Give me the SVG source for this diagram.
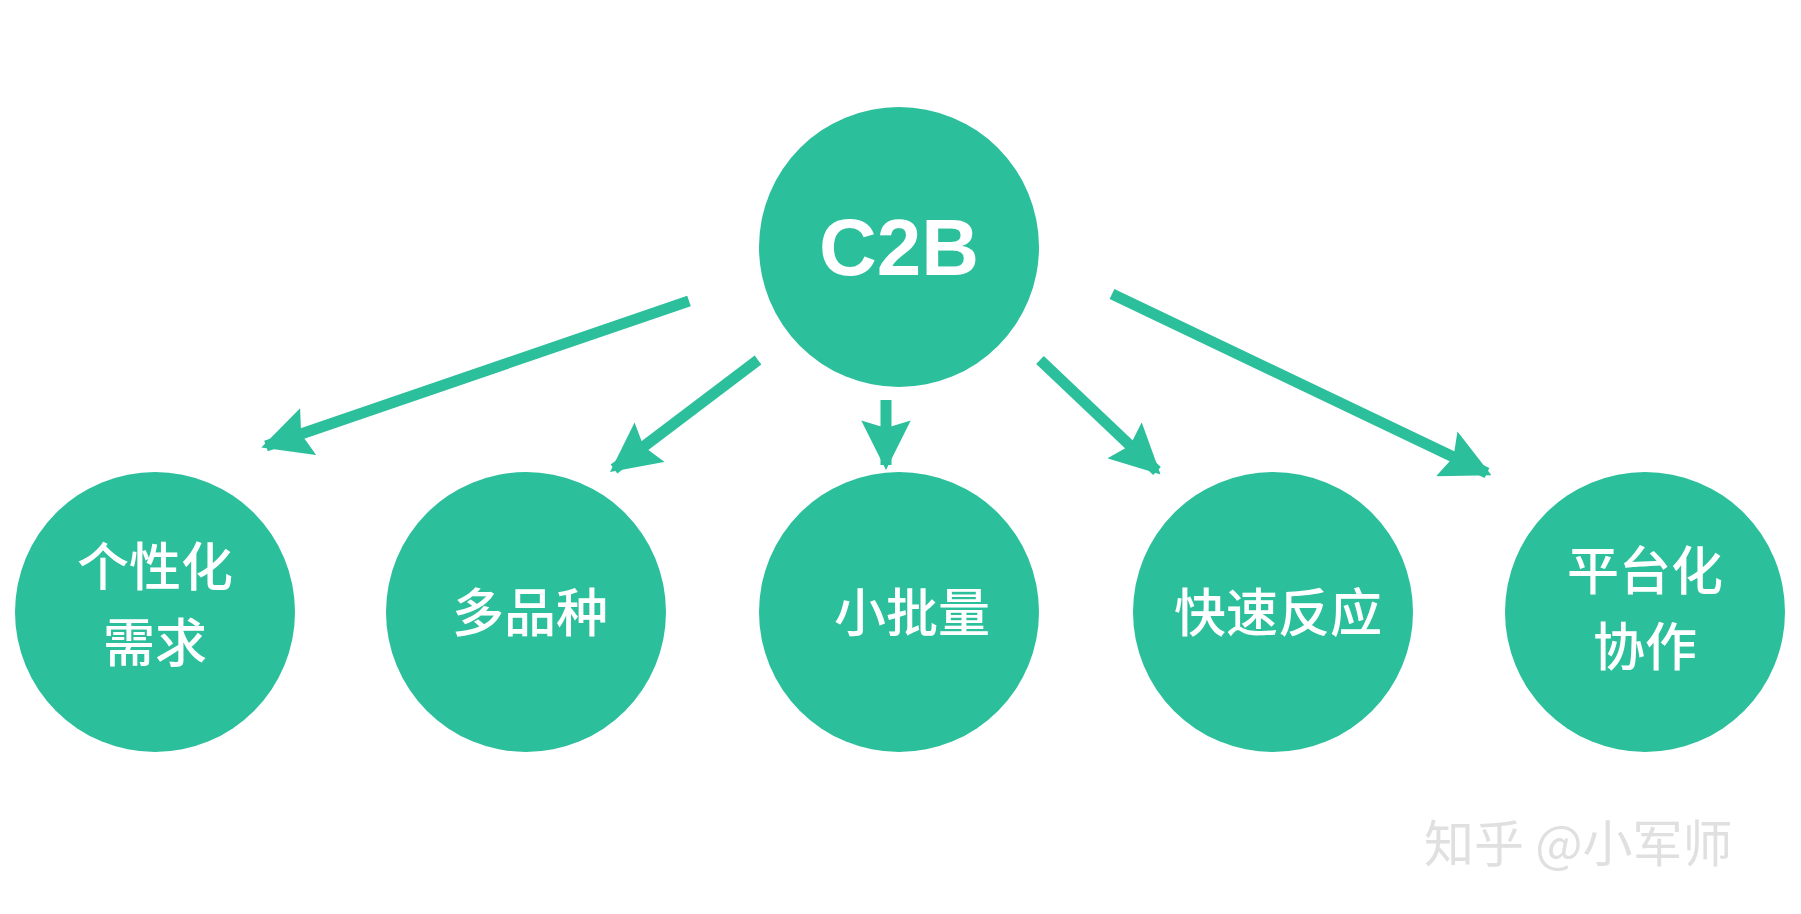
<svg xmlns="http://www.w3.org/2000/svg" width="1801" height="914" viewBox="0 0 1801 914">
<style>
.n{fill:#2bbf9b}
.t{fill:#fff;font-family:"Noto Sans CJK SC","Noto Sans",sans-serif;font-size:52px;font-weight:500;text-anchor:middle}
.c{stroke:#2bbf9b;stroke-width:11;fill:none;marker-end:url(#a)}
</style>
<defs><marker id="a" viewBox="0 0 10 10" refX="9" refY="5" markerWidth="4.5" markerHeight="4.5" orient="auto" markerUnits="strokeWidth"><path d="M0,0 L10,5 L0,10 L1.5,5 Z" fill="#2bbf9b"/></marker></defs>
<rect width="1801" height="914" fill="#fff"/>
<g id="connectors">
<line class="c" x1="689" y1="301" x2="266" y2="446"/>
<line class="c" x1="758" y1="360" x2="614" y2="469"/>
<line class="c" x1="886" y1="400" x2="886" y2="465"/>
<line class="c" x1="1040" y1="360" x2="1157" y2="471"/>
<line class="c" x1="1112" y1="294" x2="1487" y2="473"/>
</g>
<g id="c2b"><circle class="n" cx="899" cy="247" r="140"/><text x="899" y="275" fill="#fff" font-family="'Liberation Sans',sans-serif" font-weight="bold" font-size="80" text-anchor="middle">C2B</text></g>
<g id="n1"><circle class="n" cx="155" cy="612" r="140"/><text class="t" x="155" y="586">个性化</text><text class="t" x="155" y="662">需求</text></g>
<g id="n2"><circle class="n" cx="526" cy="612" r="140"/><text class="t" x="530" y="632">多品种</text></g>
<g id="n3"><circle class="n" cx="899" cy="612" r="140"/><text class="t" x="912" y="632">小批量</text></g>
<g id="n4"><circle class="n" cx="1273" cy="612" r="140"/><text class="t" x="1278" y="632">快速反应</text></g>
<g id="n5"><circle class="n" cx="1645" cy="612" r="140"/><text class="t" x="1645" y="590">平台化</text><text class="t" x="1645" y="666">协作</text></g>
<text x="1424" y="862" fill="#e0e0e0" font-family="'Noto Sans CJK SC',sans-serif" font-size="50">知乎 @小军师</text>
</svg>
